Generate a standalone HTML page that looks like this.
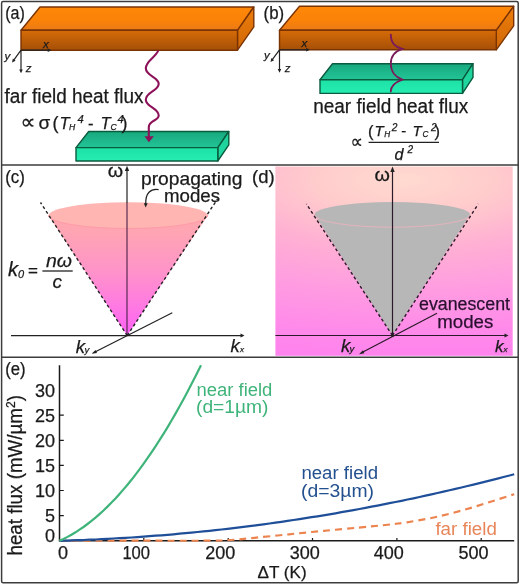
<!DOCTYPE html>
<html><head><meta charset="utf-8"><title>Near-field and far-field heat flux</title>
<style>
html,body{margin:0;padding:0;background:#fff}
svg{display:block}
text{font-family:"Liberation Sans","DejaVu Sans",sans-serif;stroke:#1a1a1a;stroke-width:.25px}
.cg{fill:#3fb47a;stroke:none}.cb{fill:#23508f;stroke:none}.co{fill:#e8865a;stroke:none}.cp{fill:#2a1030;stroke:#2a1030}
.i{font-style:italic}
</style></head><body>
<svg width="520" height="585" viewBox="0 0 520 585" fill="#1a1a1a">
<defs>
<linearGradient id="oTop" x1="0" y1="0" x2="0" y2="1"><stop offset="0" stop-color="#ff8708"/><stop offset="0.6" stop-color="#f98208"/><stop offset="1" stop-color="#ea7a18"/></linearGradient>
<linearGradient id="oFront" x1="0" y1="0" x2="0" y2="1"><stop offset="0" stop-color="#d66c08"/><stop offset="1" stop-color="#a54f07"/></linearGradient>
<linearGradient id="oSide" x1="0" y1="0" x2="0" y2="1"><stop offset="0" stop-color="#ee7d0a"/><stop offset="1" stop-color="#cf6808"/></linearGradient>
<linearGradient id="gTop" x1="0" y1="0" x2="0" y2="1"><stop offset="0" stop-color="#18a87e"/><stop offset="1" stop-color="#22c496"/></linearGradient>
<linearGradient id="gFront" x1="0" y1="0" x2="0" y2="1"><stop offset="0" stop-color="#1de2a6"/><stop offset="1" stop-color="#26ecb2"/></linearGradient>
<linearGradient id="gSide" x1="0" y1="0" x2="0" y2="1"><stop offset="0" stop-color="#20cf9a"/><stop offset="1" stop-color="#1fd9a2"/></linearGradient>
<linearGradient id="cone" x1="0" y1="0" x2="0" y2="1"><stop offset="0" stop-color="#ffa8ae"/><stop offset="0.15" stop-color="#ffa4b4"/><stop offset="0.45" stop-color="#ff94c8"/><stop offset="0.75" stop-color="#ff7ae2"/><stop offset="1" stop-color="#ff60f5"/></linearGradient>
<radialGradient id="dbg" gradientUnits="userSpaceOnUse" cx="405" cy="180" r="190" gradientTransform="translate(405 180) scale(2.8 1) translate(-405 -180)"><stop offset="0" stop-color="#ffdad0"/><stop offset="0.17" stop-color="#ffcccc"/><stop offset="0.36" stop-color="#ffb0d3"/><stop offset="0.56" stop-color="#ff9ee0"/><stop offset="0.8" stop-color="#ff8aea"/><stop offset="1" stop-color="#ff80ef"/></radialGradient>
<radialGradient id="dhi" cx="0.5" cy="0.12" r="0.75"><stop offset="0" stop-color="#fff" stop-opacity=".28"/><stop offset="1" stop-color="#fff" stop-opacity="0"/></radialGradient>
</defs>
<rect width="520" height="585" fill="#fff"/>

<g fill="none" stroke="#3c3c3c" stroke-width="1.5"><rect x="1.6" y="1.5" width="516.6" height="581.2" rx="1.5"/><path d="M1.5 164.9H518.2M1.5 357.3H518.2"/></g>
<g stroke="#7a3304" stroke-width="1.4" stroke-linejoin="round"><path d="M21 30.3L40 7.0H253.8L237.5 30.3Z" fill="url(#oTop)"/><path d="M237.5 30.3L253.8 7.0V26.900000000000002L237.5 50.2Z" fill="url(#oSide)"/><rect x="21" y="30.3" width="216.5" height="19.900000000000002" fill="url(#oFront)"/></g>
<g stroke="#0a5c3e" stroke-width="1.4" stroke-linejoin="round"><path d="M76 147.6L88.7 131.5H228.8L217.8 147.6Z" fill="url(#gTop)"/><path d="M217.8 147.6L228.8 131.5V144.9L217.8 161Z" fill="url(#gSide)"/><rect x="76" y="147.6" width="141.8" height="13.400000000000006" fill="url(#gFront)"/></g>
<path d="M158.4 50.4C155 58 145.8 61 145.8 68.3C145.8 76 158.7 77 158.7 83.8C158.7 91 145.8 92 145.8 99.7C145.8 107 158.7 108 158.7 115.6C158.7 121 148.8 120 148.8 127V137" fill="none" stroke="#8c1158" stroke-width="2.1"/>
<path d="M144.5 136.3L148.8 142.3L153.9 136.3Z" fill="#8c1158"/>
<g stroke="#222" stroke-width="1.2" fill="#222"><path d="M21 50.2H49.5M21 50.2V70.7M21 50.2L13.4 60.6" fill="none"/><path d="M51.5 50.2l-3.8 -1.8v3.6zM21 73.2l-1.8 -3.8h3.6zM12 62.400000000000006l.9 -3.9 2.7 2.2z" stroke="none"/></g><text class="i" x="43" y="48.0" font-size="11.5">x</text><text class="i" x="4.5" y="59.5" font-size="11.5">y</text><text class="i" x="25.8" y="72.2" font-size="11.5">z</text>
<text x="5.2" y="19.4" font-size="17.5" textLength="19.6" lengthAdjust="spacingAndGlyphs">(a)</text>
<text x="4.6" y="102.8" font-size="19.5" textLength="139" lengthAdjust="spacingAndGlyphs">far field heat flux</text>
<text font-size="16.5" y="128.8"><tspan x="20.6" font-family="DejaVu Sans,sans-serif" font-size="21" dy="0.6">∝</tspan><tspan x="38.6" dy="-0.6" font-size="19">σ</tspan><tspan x="52.6" font-size="18" dy="0.6">(</tspan><tspan class="i" x="59.5" dy="-0.6">T</tspan><tspan class="i" x="69" font-size="8.6" dy="1.2">H</tspan><tspan class="i" x="77.4" font-size="11.2" dy="-7">4</tspan><tspan x="88" dy="5.8">-</tspan><tspan class="i" x="100.4">T</tspan><tspan class="i" x="110.6" font-size="8.6" dy="1.2">C</tspan><tspan class="i" x="117.6" font-size="11.2" dy="-7">4</tspan><tspan x="121.6" font-size="18" dy="6.4">)</tspan></text>
<g stroke="#7a3304" stroke-width="1.4" stroke-linejoin="round"><path d="M279.5 30.3L299.5 6.300000000000001H513.7L496.3 30.3Z" fill="url(#oTop)"/><path d="M496.3 30.3L513.7 6.300000000000001V25.799999999999997L496.3 49.8Z" fill="url(#oSide)"/><rect x="279.5" y="30.3" width="216.8" height="19.499999999999996" fill="url(#oFront)"/></g>
<g stroke="#0a5c3e" stroke-width="1.4" stroke-linejoin="round"><path d="M320 79.7L332.5 63.7H473.0L462.5 79.7Z" fill="url(#gTop)"/><path d="M462.5 79.7L473.0 63.7V77.4L462.5 93.4Z" fill="url(#gSide)"/><rect x="320" y="79.7" width="142.5" height="13.700000000000003" fill="url(#gFront)"/></g>
<path d="M390.8 34.6C390.8 44 396 47 402.3 48.9C396 51 390.8 55 390.8 63.5C390.8 72 396 77.5 402.3 79.7C396 82 390.8 85 390.8 91.5" fill="none" stroke="#7a1a5a" stroke-width="1.8" stroke-linecap="round"/>
<g stroke="#222" stroke-width="1.2" fill="#222"><path d="M279.5 49.8H308.0M279.5 49.8V70.3M279.5 49.8L271.9 60.199999999999996" fill="none"/><path d="M310.0 49.8l-3.8 -1.8v3.6zM279.5 72.8l-1.8 -3.8h3.6zM270.5 62.0l.9 -3.9 2.7 2.2z" stroke="none"/></g><text class="i" x="301.5" y="47.4" font-size="11.5">x</text><text class="i" x="264.0" y="59.4" font-size="11.5">y</text><text class="i" x="284.8" y="72.0" font-size="11.5">z</text>
<text x="263.6" y="19.4" font-size="17.5" textLength="20.6" lengthAdjust="spacingAndGlyphs">(b)</text>
<text x="313.2" y="112.6" font-size="19.5" textLength="155" lengthAdjust="spacingAndGlyphs">near field heat flux</text>
<text x="350.6" y="147.6" font-family="DejaVu Sans,sans-serif" font-size="19" textLength="12.4" lengthAdjust="spacingAndGlyphs">∝</text>
<path d="M368.6 142.3H439" stroke="#222" stroke-width="1.3"/>
<text font-size="15" y="136.3"><tspan x="368" font-size="16.5" dy="0.4">(</tspan><tspan class="i" x="374.4" dy="-0.4">T</tspan><tspan class="i" x="384.2" font-size="8.2" dy="0.8">H</tspan><tspan class="i" x="391.8" font-size="10.2" dy="-6.6">2</tspan><tspan x="401.3" dy="5.8">-</tspan><tspan class="i" x="412.5">T</tspan><tspan class="i" x="422.6" font-size="8.2" dy="0.8">C</tspan><tspan class="i" x="430.9" font-size="10.2" dy="-6.6">2</tspan><tspan x="434.6" font-size="16.5" dy="6.2">)</tspan></text>
<text x="394.6" y="159.5" font-size="16.2" class="i">d<tspan x="407.6" font-size="10" dy="-6.2">2</tspan></text>
<path d="M48.5 215.4L127.2 335.6L207.7 215.4Z" fill="url(#cone)"/>
<ellipse cx="128.1" cy="215.4" rx="79.6" ry="13.1" fill="#ffb5b2"/>
<path d="M48.5 215.4A79.6 13.1 0 0 0 207.7 215.4" fill="none" stroke="#ff9aa8" stroke-width="1"/>
<g stroke="#222" stroke-width="1.2" fill="none"><path d="M127 203V168"/><path d="M127 335.6V203" stroke="#4a2048" stroke-width="1.1"/><path d="M11 335.6H243"/><path d="M172.3 312.7L93.5 352.8"/><path d="M127.2 335.6L40.5 202.5M127.2 335.6L217.5 199" stroke-dasharray="3 2.6" stroke-width="1.4"/></g>
<path d="M127 165.8L124.8 171H129.2Z" fill="#222"/><path d="M244.5 335.6L240.5 333.6V337.6Z" fill="#222"/><path d="M91.6 353.8L95.6 349.9L97 353Z" fill="#222"/>
<text x="5.2" y="182.6" font-size="17.5" textLength="19.6" lengthAdjust="spacingAndGlyphs">(c)</text>
<text x="107.8" y="177.3" font-size="17.5" textLength="15.4" lengthAdjust="spacingAndGlyphs">ω</text>
<text x="141" y="184.5" font-size="18.5" textLength="101.5" lengthAdjust="spacingAndGlyphs">propagating</text>
<text x="164" y="201.8" font-size="18.5" textLength="56" lengthAdjust="spacingAndGlyphs">modes</text>
<path d="M158.6 189.6C150.5 188.4 145.4 193 145.7 204" fill="none" stroke="#222" stroke-width="1.2"/><path d="M145.7 207.6L143.8 203.2H147.7Z" fill="#222"/>
<text y="275.8" font-size="20" class="i"><tspan x="8">k</tspan><tspan x="18" font-size="11" dy="2.2">0</tspan><tspan x="28" dy="-2.2" font-style="normal" font-size="17">=</tspan></text>
<path d="M42.4 271H72.7" stroke="#222" stroke-width="1.3"/>
<text x="46" y="267.2" font-size="19" class="i" textLength="26" lengthAdjust="spacingAndGlyphs">nω</text><text x="52.4" y="288.3" font-size="19" class="i">c</text>
<text y="351.7" font-size="18.5" class="i"><tspan x="230.6">k</tspan><tspan x="240" font-size="8">x</tspan></text>
<text y="352.7" font-size="18.5" class="i"><tspan x="75.8">k</tspan><tspan x="84.4" font-size="9.5" dy="0.6">y</tspan></text>
<rect x="275.4" y="166.5" width="237.3" height="189.3" fill="url(#dbg)"/>
<path d="M314.6 214.6L392.4 335L470 214.6Z" fill="#b7b7b7"/><ellipse cx="392.3" cy="214.6" rx="77.7" ry="12.6" fill="#b7b7b7"/>
<path d="M314.6 214.6A77.7 12.6 0 0 0 470 214.6" fill="none" stroke="#ffb0c0" stroke-width="1" opacity=".6"/>
<g stroke="#2a1a2a" stroke-width="1.2" fill="none"><path d="M392.5 335.5V169"/><path d="M275.4 335.5H506"/><path d="M437 313.2L361 353"/><path d="M392.4 335.5L306.4 204M392.4 335.5L478.3 204" stroke-dasharray="3 2.6" stroke-width="1.4"/></g>
<path d="M392.5 166.6L390.3 172H394.7Z" fill="#222"/><path d="M508.5 335.5L504.5 333.5V337.5Z" fill="#222"/><path d="M359 354.2L363 350.2L364.4 353.3Z" fill="#222"/><circle cx="392.4" cy="335.5" r="1.5" fill="#222"/>
<text x="252" y="183" font-size="17.5" textLength="22.6" lengthAdjust="spacingAndGlyphs">(d)</text>
<text x="374.6" y="181" font-size="17.5" textLength="15.4" lengthAdjust="spacingAndGlyphs">ω</text>
<text x="419" y="309.9" font-size="18" textLength="91" lengthAdjust="spacingAndGlyphs" class="cp">evanescent</text>
<text x="437.3" y="328.4" font-size="18" textLength="56" lengthAdjust="spacingAndGlyphs" class="cp">modes</text>
<text y="352" font-size="17" class="i"><tspan x="495">k</tspan><tspan x="503.6" font-size="8">x</tspan></text>
<text y="351.8" font-size="18.5" class="i"><tspan x="341">k</tspan><tspan x="349.6" font-size="9.5" dy="0.6">y</tspan></text>
<path d="M59.5 365.2V540.8H514.2" fill="none" stroke="#1a1a1a" stroke-width="1.5"/><path d="M59.5 515.7h4.3M59.5 490.5h4.3M59.5 465.4h4.3M59.5 440.3h4.3M59.5 415.2h4.3M143.8 540.8v-2.8M228.2 540.8v-2.8M312.5 540.8v-2.8M396.9 540.8v-2.8M481.2 540.8v-2.8" stroke="#1a1a1a" stroke-width="1.2" fill="none"/>
<path d="M59.5 540.7C72.9 540.7 115.8 540.7 140.0 540.7C164.2 540.7 190.3 540.8 205.0 540.7C219.7 540.6 219.7 540.7 228.0 540.2C236.3 539.7 244.4 538.8 254.6 537.8C264.8 536.8 277.5 535.5 289.0 534.3C300.5 533.1 312.2 531.9 323.8 530.8C335.4 529.7 348.2 528.6 358.5 527.6C368.8 526.6 377.3 525.9 385.4 525.0C393.5 524.1 398.9 523.5 407.0 522.3C415.1 521.0 424.8 519.4 433.8 517.5C442.8 515.6 451.8 513.3 460.8 510.8C469.8 508.3 478.8 505.5 487.7 502.7C496.6 499.9 509.8 495.6 514.2 494.2" fill="none" stroke="#ec8450" stroke-width="2.2" stroke-dasharray="7 5"/>
<polyline points="59.5,540.8 65.5,540.6 71.5,540.4 77.5,540.2 83.5,540.0 89.5,539.7 95.5,539.5 101.5,539.2 107.5,538.9 113.5,538.5 119.5,538.2 125.5,537.8 131.5,537.5 137.5,537.1 143.5,536.6 149.5,536.2 155.5,535.7 161.5,535.3 167.5,534.8 173.5,534.3 179.5,533.7 185.5,533.2 191.5,532.6 197.5,532.0 203.5,531.4 209.5,530.8 215.5,530.1 221.5,529.5 227.5,528.8 233.5,528.1 239.5,527.4 245.5,526.6 251.5,525.9 257.5,525.1 263.5,524.3 269.5,523.5 275.5,522.6 281.5,521.8 287.5,520.9 293.5,520.0 299.5,519.1 305.5,518.2 311.5,517.2 317.5,516.3 323.5,515.3 329.5,514.3 335.5,513.3 341.5,512.2 347.5,511.2 353.5,510.1 359.5,509.0 365.5,507.9 371.5,506.7 377.5,505.6 383.5,504.4 389.5,503.2 395.5,502.0 401.5,500.8 407.5,499.5 413.5,498.3 419.5,497.0 425.5,495.7 431.5,494.4 437.5,493.0 443.5,491.7 449.5,490.3 455.5,488.9 461.5,487.5 467.5,486.0 473.5,484.6 479.5,483.1 485.5,481.6 491.5,480.1 497.5,478.6 503.5,477.0 509.5,475.5 514.2,474.2" fill="none" stroke="#1f4f98" stroke-width="2.2"/>
<polyline points="59.5,540.8 63.5,538.9 67.5,536.9 71.5,534.7 75.5,532.3 79.5,529.7 83.5,527.0 87.5,524.0 91.5,520.9 95.5,517.6 99.5,514.1 103.5,510.5 107.5,506.6 111.5,502.6 115.5,498.4 119.5,494.0 123.5,489.4 127.5,484.7 131.5,479.8 135.5,474.6 139.5,469.4 143.5,463.9 147.5,458.2 151.5,452.4 155.5,446.4 159.5,440.2 163.5,433.8 167.5,427.3 171.5,420.5 175.5,413.6 179.5,406.5 183.5,399.2 187.5,391.8 191.5,384.1 195.5,376.3 199.5,368.3 201.0,365.2" fill="none" stroke="#3fb47a" stroke-width="2.2"/>
<text x="55" y="541.6" font-size="18" text-anchor="end">0</text>
<text x="55" y="522.2" font-size="18" text-anchor="end">5</text>
<text x="55" y="497.0" font-size="18" text-anchor="end">10</text>
<text x="55" y="471.9" font-size="18" text-anchor="end">15</text>
<text x="55" y="446.8" font-size="18" text-anchor="end">20</text>
<text x="55" y="421.7" font-size="18" text-anchor="end">25</text>
<text x="55" y="396.5" font-size="18" text-anchor="end">30</text>
<text x="63.1" y="558.6" font-size="18" text-anchor="middle">0</text>
<text x="220.3" y="558.6" font-size="18" text-anchor="middle">200</text>
<text x="304.8" y="558.6" font-size="18" text-anchor="middle">300</text>
<text x="388.8" y="558.6" font-size="18" text-anchor="middle">400</text>
<text x="473.5" y="558.6" font-size="18" text-anchor="middle">500</text>
<text x="122.4" y="558.6" font-size="18" textLength="27.6" lengthAdjust="spacingAndGlyphs">100</text>
<text x="5.2" y="375.2" font-size="17.5" textLength="20.4" lengthAdjust="spacingAndGlyphs">(e)</text>
<text x="257.6" y="577.8" font-size="17" textLength="49" lengthAdjust="spacingAndGlyphs">ΔT (K)</text>
<text transform="translate(22.3 475.3) rotate(-90)" font-size="19.5" text-anchor="middle" textLength="160.5" lengthAdjust="spacingAndGlyphs">heat flux (mW/µm<tspan font-size="12.5" dy="-7.5">2</tspan><tspan dy="7.5">)</tspan></text>
<text x="196.4" y="396" font-size="17.5" class="cg" textLength="76" lengthAdjust="spacingAndGlyphs">near field</text><text x="196" y="413.3" font-size="17.5" class="cg" textLength="72.5" lengthAdjust="spacingAndGlyphs">(d=1µm)</text>
<text x="301.4" y="479" font-size="17.5" class="cb" textLength="76.6" lengthAdjust="spacingAndGlyphs">near field</text><text x="301" y="497" font-size="17.5" class="cb" textLength="73" lengthAdjust="spacingAndGlyphs">(d=3µm)</text>
<text x="435.4" y="534.6" font-size="17.5" class="co" textLength="61.5" lengthAdjust="spacingAndGlyphs">far field</text>
</svg></body></html>
